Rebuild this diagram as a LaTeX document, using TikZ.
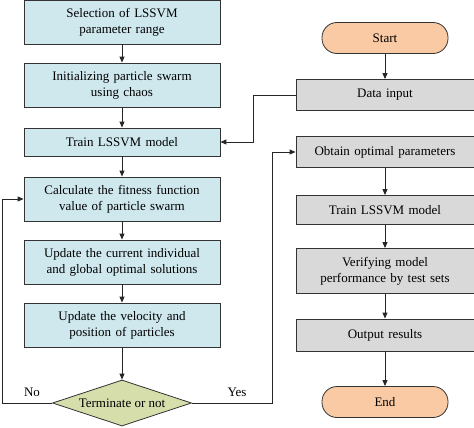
\documentclass[tikz,border=0pt]{standalone}
\usepackage{fontspec}
\setmainfont{Liberation Serif}
\usetikzlibrary{positioning,shapes.geometric,arrows.meta}

\definecolor{psoblue}{RGB}{207,232,238}
\definecolor{svmgrey}{RGB}{217,217,217}
\definecolor{termpeach}{RGB}{249,202,163}
\definecolor{decolive}{RGB}{214,222,172}

\begin{document}
\begin{tikzpicture}[x=1pt,y=-1pt,>={Triangle[length=6pt,width=5pt]},
  font=\fontsize{13}{16}\selectfont,
  psobox/.style={draw=black!80,fill=psoblue,line width=0.8pt,inner sep=0pt,
    minimum width=196pt,text width=190pt,align=center},
  svmbox/.style={draw=black!80,fill=svmgrey,line width=0.8pt,inner sep=0pt,
    minimum width=178pt,text width=172pt,align=center},
  ends/.style={draw=black!80,fill=termpeach,line width=0.8pt,rounded corners=15pt,
    minimum width=126pt,minimum height=31pt,inner sep=0pt},
  flow/.style={->,line width=0.9pt,black!85}]
\useasboundingbox (0,0) rectangle (474,428);

% PSO part
\node[psobox,minimum height=44pt] (sel) at (122,22) {Selection of LSSVM\\parameter range};
\node[psobox,minimum height=44pt] (init) at (122,85) {Initializing particle swarm\\using chaos};
\node[psobox,minimum height=28pt] (train) at (122,142) {Train LSSVM model};
\node[psobox,minimum height=44pt] (fit) at (122,199) {Calculate the fitness function\\value of particle swarm};
\node[psobox,minimum height=44pt] (best) at (122,262) {Update the current individual\\and global optimal solutions};
\node[psobox,minimum height=44pt] (move) at (122,325) {Update the velocity and\\position of particles};
\node[diamond,aspect=3,draw=black!80,fill=decolive,line width=0.8pt,inner sep=0pt,
  minimum width=139pt,minimum height=46pt] (term) at (122,403) {Terminate or not};

% LSSVM part
\node[ends] (start) at (385,38) {Start};
\node[svmbox,minimum height=31pt] (data) at (385,95) {Data input};
\node[svmbox,minimum height=31pt] (opt) at (385,152) {Obtain optimal parameters};
\node[svmbox,minimum height=29pt] (train2) at (385,210) {Train LSSVM model};
\node[svmbox,minimum height=45pt] (verif) at (385,271) {Verifying model\\performance by test sets};
\node[svmbox,minimum height=32pt] (outp) at (385,335) {Output results};
\node[ends] (end) at (385,402) {End};

\coordinate (nol) at (2,403);
\coordinate (yesl) at (272,403);
\coordinate (datal) at (253,95);

%vertical flow
\draw[flow] (sel) -- (init);
\draw[flow] (init) -- (train);
\draw[flow] (train) -- (fit);
\draw[flow] (fit) -- (best);
\draw[flow] (best) -- (move);
\draw[flow] (move) -- (term);
\draw[flow] (start) -- (data);
\draw[flow] (opt) -- (train2);
\draw[flow] (train2) -- (verif);
\draw[flow] (verif) -- (outp);
\draw[flow] (outp) -- (end);

%loops
\draw[flow] (data.west) -- (datal) |- (train.east);
\draw[flow] (term.west) -- (nol) |- (fit.west);
\draw[flow] (term.east) -- (yesl) |- (opt.west);

\node (no) at (32,392) {No};
\node (yes) at (237,392) {Yes};
\end{tikzpicture}
\end{document}
